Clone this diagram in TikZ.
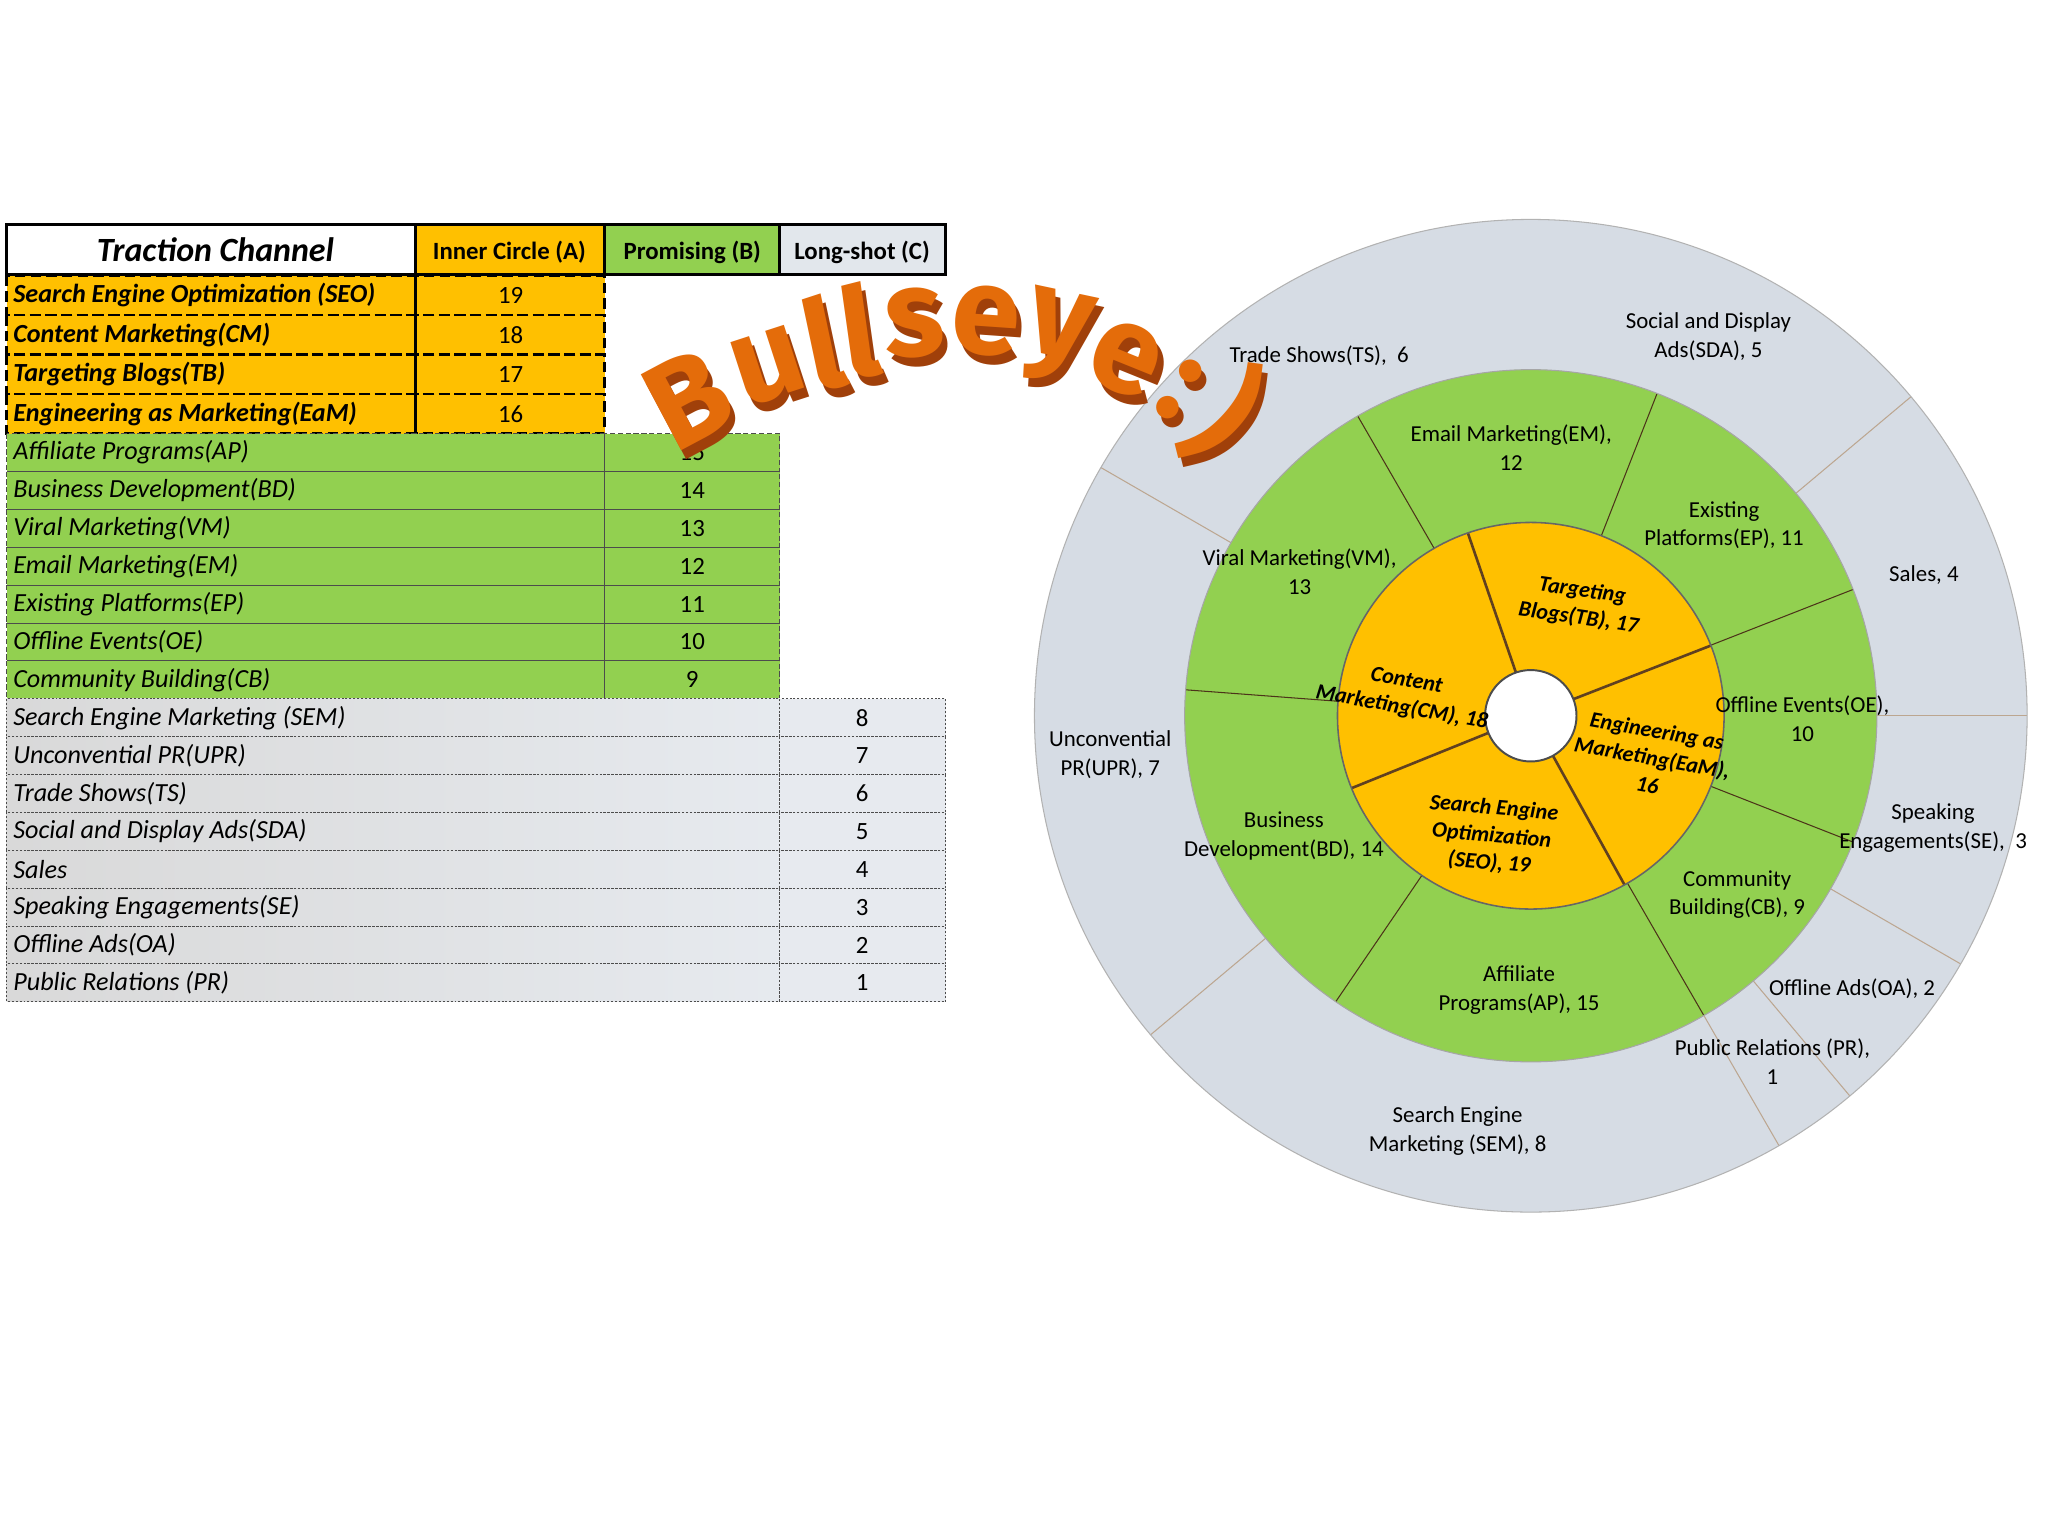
\documentclass[tikz,border=0pt]{standalone}
\usepackage{fontspec}
\setmainfont{Carlito}
\newfontfamily\bigf{Fira Sans}
\usetikzlibrary{calc}
\definecolor{org}{HTML}{FFC000}
\definecolor{grn}{HTML}{92D050}
\definecolor{gry}{HTML}{D6DCE4}
\definecolor{bor}{HTML}{E46C0A}
\definecolor{bdk}{HTML}{A0400A}
\tikzset{
 tb/.style={font=\fontsize{20}{22}\selectfont\itshape, anchor=west, inner sep=0},
 tbb/.style={font=\fontsize{20}{22}\selectfont\bfseries\itshape, anchor=west, inner sep=0},
 num/.style={font=\fontsize{19}{21}\selectfont, inner sep=0},
 lab/.style={font=\fontsize{17.5}{22}\selectfont, align=center, inner sep=0},
 olab/.style={font=\fontsize{17}{21}\selectfont\bfseries\itshape, align=center, inner sep=0},
 odash/.style={draw=black, line width=2pt, dash pattern=on 8pt off 4pt},
 gdash/.style={draw=black!70, line width=0.8pt, dash pattern=on 4pt off 2pt},
 ydot/.style={draw=black!70, line width=0.8pt, dash pattern=on 1.5pt off 1.5pt},
}
\newcommand{\sect}[5]{% col, a1, a2, r1, r2
 \fill[#1] ($(C)+(#2:#4)$) arc[start angle=#2,end angle=#3,radius=#4] -- ($(C)+(#3:#5)$) arc[start angle=#3,end angle=#2,radius=#5] -- cycle;}
\begin{document}
\begin{tikzpicture}[x=1pt,y=1pt]
\useasboundingbox (0,0) rectangle (1568,-1174);
\fill[white] (0,0) rectangle (1568,-1174);
% ---------- table ----------
\fill[white] (5,-172) rectangle (318,-210);
\fill[org] (318,-172) rectangle (463,-210);
\fill[grn] (463,-172) rectangle (597,-210);
\fill[gry!70!white] (597,-172) rectangle (724,-210);
\draw[line width=2.2pt] (5,-172) rectangle (724,-210);
\foreach \x in {318,463,597} \draw[line width=2pt] (\x,-172) -- (\x,-210);
\node[font=\fontsize{26}{28}\selectfont\bfseries\itshape] (h1) at (165,-191) {Traction Channel};
\node[font=\fontsize{19}{21}\selectfont\bfseries] (h2) at (390,-193) {Inner Circle (A)};
\node[font=\fontsize{19}{21}\selectfont\bfseries] (h3) at (530,-193) {Promising (B)};
\node[font=\fontsize{19}{21}\selectfont\bfseries] (h4) at (660,-193) {Long-shot (C)};
% orange rows
\fill[org] (5,-211) rectangle (463,-332);
\foreach \t/\n [count=\i] in {Search Engine Optimization (SEO)/19,Content Marketing(CM)/18,Targeting Blogs(TB)/17,Engineering as Marketing(EaM)/16}{
  \pgfmathsetmacro\yt{-211-30.25*(\i-1)}
  \pgfmathsetmacro\yb{-211-30.25*\i}
  \draw[odash] (5,\yt) rectangle (318,\yb);
  \draw[odash] (318,\yt) rectangle (463,\yb);
  \node[tbb] (o\i) at (10,{(\yt+\yb)/2}) {\t};
  \node[num] (on\i) at (391,{(\yt+\yb)/2}) {\n};
}
% green rows
\fill[grn] (5,-332) rectangle (597,-535);
\foreach \t/\n [count=\i] in {Affiliate Programs(AP)/15,Business Development(BD)/14,Viral Marketing(VM)/13,Email Marketing(EM)/12,Existing Platforms(EP)/11,Offline Events(OE)/10,Community Building(CB)/9}{
  \pgfmathsetmacro\yt{-332-29*(\i-1)}
  \pgfmathsetmacro\yb{-332-29*\i}
  \draw[gdash] (5,\yt) rectangle (463,\yb);
  \draw[gdash] (463,\yt) rectangle (597,\yb);
  \node[tb] (g\i) at (10,{(\yt+\yb)/2}) {\t};
  \node[num] (gn\i) at (530,{(\yt+\yb)/2}) {\n};
}
% grey rows
\shade[left color=black!15, right color=gry!60!white] (5,-535) rectangle (597,-767);
\fill[gry!60!white] (597,-535) rectangle (724,-767);
\foreach \t/\n [count=\i] in {Search Engine Marketing (SEM)/8,Unconvential PR(UPR)/7,Trade Shows(TS)/6,Social and Display Ads(SDA)/5,Sales/4,Speaking Engagements(SE)/3,Offline Ads(OA)/2,Public Relations (PR)/1}{
  \pgfmathsetmacro\yt{-535-29*(\i-1)}
  \pgfmathsetmacro\yb{-535-29*\i}
  \draw[ydot] (5,\yt) rectangle (597,\yb);
  \draw[ydot] (597,\yt) rectangle (724,\yb);
  \node[tb] (y\i) at (10,{(\yt+\yb)/2}) {\t};
  \node[num] (yn\i) at (660,{(\yt+\yb)/2}) {\n};
}
% ---------- bullseye chart ----------
\coordinate (C) at (1172,-548);
\foreach \a/\b in {90/40,40/0,0/-30,-30/-50,-50/-60,-60/-140,-140/-210,-210/-270}{
  \sect{gry}{\a}{\b}{265}{380}
  \draw[brown!50!gray!70, line width=0.8pt] ($(C)+(\a:265)$) -- ($(C)+(\a:380)$);}
\draw[gray!60, line width=0.8pt] (C) circle (380);
\sect{grn}{120}{-240}{148}{265}
\foreach \a in {120,68.6,21.4,-21.4,-60,-124.3,-184.3}
  \draw[black!60!brown, line width=0.8pt] ($(C)+(\a:148)$) -- ($(C)+(\a:265)$);
\draw[gray!70, line width=0.8pt] (C) circle (265);
\sect{org}{109}{-251}{35}{148}
\foreach \a in {109,21.3,-61,-158}
  \draw[black!50!brown, line width=2pt] ($(C)+(\a:35)$) -- ($(C)+(\a:148)$);
\draw[black!60, line width=1.2pt] (C) circle (148);
\fill[white] (C) circle (35);
\draw[black!70, line width=1.5pt] (C) circle (35);
% grey labels
\node[lab] (lts) at (1010,-272) {Trade Shows(TS),\ \ 6};
\node[lab] (lsda) at (1308,-258) {Social and Display\\Ads(SDA), 5};
\node[lab] (lsa) at (1473,-440) {Sales, 4};
\node[lab] (lse) at (1480,-634) {Speaking\\Engagements(SE),\ \ 3};
\node[lab] (loa) at (1418,-757) {Offline Ads(OA), 2};
\node[lab] (lpr) at (1357,-813) {Public Relations (PR),\\1};
\node[lab] (lsem) at (1116,-866) {Search Engine\\Marketing (SEM), 8};
\node[lab] (lupr) at (850,-578) {Unconvential\\PR(UPR), 7};
% green labels
\node[lab] (lem) at (1157,-343) {Email Marketing(EM),\\12};
\node[lab] (lep) at (1320,-402) {Existing\\Platforms(EP), 11};
\node[lab] (loe) at (1380,-550) {Offline Events(OE),\\10};
\node[lab] (lcb) at (1330,-685) {Community\\Building(CB), 9};
\node[lab] (lap) at (1163,-758) {Affiliate\\Programs(AP), 15};
\node[lab] (lbd) at (983,-640) {Business\\Development(BD), 14};
\node[lab] (lvm) at (995,-438) {Viral Marketing(VM),\\13};
% orange labels
\node[olab, rotate=-8] (ltb) at (1210,-463) {Targeting\\Blogs(TB), 17};
\node[olab, rotate=-10] (lcm) at (1075,-532) {Content\\Marketing(CM), 18};
\node[olab, rotate=-5] (lseo) at (1142,-640) {Search Engine\\Optimization\\(SEO), 19};
\node[olab, rotate=-10] (leam) at (1265,-580) {Engineering as\\Marketing(EaM),\\16};
% ---------- Bullseye:) ----------
\foreach \ch/\x/\y/\r [count=\i] in {B/527/-305/28,u/588/-280/18,l/630/-262/12,l/658/-253/8,s/700/-247/3,e/755/-246/-4,y/810/-258/-12,e/862/-275/-22,:/903/-298/-32,)/938/-318/-42}{
  \node[font=\fontsize{95}{95}\bigf\bfseries, text=bdk, rotate=\r] at (\x+4,\y-7) {\ch};
  \node[font=\fontsize{95}{95}\bigf\bfseries, text=bor, rotate=\r] (b\i) at (\x,\y) {\ch};
}
\end{tikzpicture}
\end{document}
